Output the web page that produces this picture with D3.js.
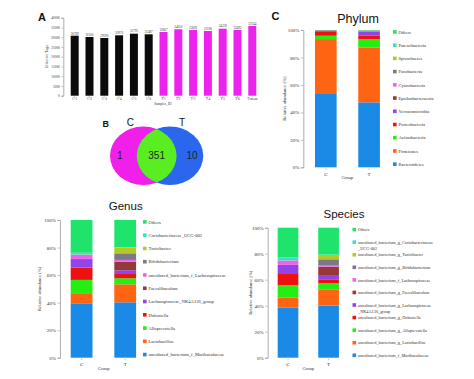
<!DOCTYPE html>
<html><head><meta charset="utf-8">
<script src="https://cdn.jsdelivr.net/npm/d3@7"></script>
<style>body{margin:0;background:#fff}svg{display:block}</style></head>
<body>
<svg id="c" width="474" height="379"></svg>
<script>
// ---------- DATA ----------
const sampleNames = ["C-1","C-2","C-3","C-4","C-5","C-6","T-1","T-2","T-3","T-4","T-5","T-6","T-mean"];
const sampleGroups = ["C","C","C","C","C","C","T","T","T","T","T","T","T"];
const sampleValues = [30769,30100,29590,30970,31795,31487,32667,34050,33692,33180,34359,33692,35744];
const sampleTicks = [0,5000,10000,15000,20000,25000,30000,35000,40000];

const vennSets = ["C","T"];
const vennCounts = [1,351,10]; // C only, shared, T only

const groups = ["C","T"];
const pctTicks = [0,20,40,60,80,100];

const phylumNames = ["Others","Patescibacteria","Spirochaetes","Fusobacteria","Cyanobacteria","Epsilonbacteraeota","Verrucomicrobia","Proteobacteria","Actinobacteria","Firmicutes","Bacteroidetes"];
const phylumC = [0.1,0.1,0.05,0.05,0.05,0.6,0.05,3.2,2.4,40.0,53.4];
const phylumT = [0.2,0.1,0.1,0.5,0.1,0.2,2.7,2.9,6.1,39.8,47.3];

const genusNames = ["Others","Coriobacteriaceae_UCG-002","Turicibacter","Bifidobacterium","uncultured_bacterium_f_Lachnospiraceae","Faecalibaculum","Lachnospiraceae_NK4A136_group","Dubosiella","Alloprevotella","Lactobacillus","uncultured_bacterium_f_Muribaculaceae"];
const genusC = [23.8,1.2,0.1,0.1,3.1,0.1,6.1,9.0,10.2,6.8,39.5];
const genusT = [19.8,0.3,4.1,4.8,1.2,6.3,2.7,3.1,4.4,13.1,40.2];

const speciesNames = ["Others","uncultured_bacterium_g_Coriobacteriaceae\n_UCG-002","uncultured_bacterium_g_Turicibacter","uncultured_bacterium_g_Bifidobacterium","uncultured_bacterium_f_Lachnospiraceae","uncultured_bacterium_g_Faecalibaculum","uncultured_bacterium_g_Lachnospiraceae\n_NK4A136_group","uncultured_bacterium_g_Dubosiella","uncultured_bacterium_g_Alloprevotella","uncultured_bacterium_g_Lactobacillus","uncultured_bacterium_f_Muribaculaceae"];
const speciesC = [22.8,2.3,0.1,0.1,3.3,0.1,6.9,8.5,9.5,7.7,38.7];
const speciesT = [20.7,0.3,3.3,4.4,1.3,6.4,3.3,3.1,4.6,12.6,40.0];

const seriesColors = ["#1fe46c","#34e0d2","#b6c824","#7a7a86","#ef62ef","#953838","#8f45e8","#ee1111","#25ee12","#ff6412","#1a8ae6"];

// ---------- DRAW ----------
const svg = d3.select("#c");
svg.append("rect").attr("width",474).attr("height",379).attr("fill","#fff");
const SERIF = "'Liberation Serif', 'DejaVu Serif', serif";
const SANS = "'Liberation Sans', Arial, sans-serif";

function styleAxis(g, fs){
  g.selectAll("path.domain").attr("stroke","#9a9a9a").attr("stroke-width",0.8);
  g.selectAll(".tick line").attr("stroke","#9a9a9a").attr("stroke-width",0.6);
  g.selectAll(".tick text").attr("font-family",SERIF).attr("font-size",fs).attr("fill","#333");
}

// ----- Panel A -----
(function(){
  const y = d3.scaleLinear().domain([0,40000]).range([95.7,17.7]);
  const x = d3.scaleBand().domain(sampleNames).range([63.9,263.1]).paddingInner(0.46).paddingOuter(0.46);
  const ya = svg.append("g").attr("transform","translate(63.3,0)")
    .call(d3.axisLeft(y).tickValues(sampleTicks).tickSize(2).tickPadding(1.5).tickFormat(d3.format("d")));
  styleAxis(ya, 3.4);
  const xa = svg.append("g").attr("transform","translate(0,95.9)")
    .call(d3.axisBottom(x).tickSize(1.2).tickPadding(0.6));
  styleAxis(xa, 3.3);
  xa.select("path.domain").remove();
  svg.append("g").selectAll("rect").data(sampleValues).join("rect")
    .attr("x",(d,i)=>x(sampleNames[i])).attr("width",x.bandwidth())
    .attr("y",d=>y(d)).attr("height",d=>y(0)-y(d))
    .attr("fill",(d,i)=>sampleGroups[i]==="C"?"#0b0b0b":"#ee22ee");
  svg.append("g").selectAll("text").data(sampleValues).join("text")
    .attr("x",(d,i)=>x(sampleNames[i])+x.bandwidth()/2).attr("y",d=>y(d)-1.2)
    .attr("text-anchor","middle").attr("font-family",SERIF).attr("font-size",3.2).attr("fill","#333")
    .text(d=>d);
  svg.append("text").attr("transform","translate(47.5,56.7) rotate(-90)").attr("text-anchor","middle")
    .attr("font-family",SERIF).attr("font-size",4).attr("fill","#333").text("Effective Tags");
  svg.append("text").attr("x",163).attr("y",104.8).attr("text-anchor","middle")
    .attr("font-family",SERIF).attr("font-size",3.5).attr("fill","#333").text("Samples_ID");
  svg.append("text").attr("x",38).attr("y",20.5).attr("font-family",SANS).attr("font-weight","bold")
    .attr("font-size",11).attr("fill","#111").text("A");
})();

// ----- Panel B (Venn) -----
(function(){
  const cx = d3.scaleOrdinal().domain(vennSets).range([143.3,170]);
  const cy = 155.8, rx = 33.3, ry = 29.2;
  const defs = svg.append("defs");
  defs.append("clipPath").attr("id","clipC").append("ellipse")
    .attr("cx",cx("C")).attr("cy",cy).attr("rx",rx).attr("ry",ry);
  svg.append("ellipse").attr("cx",cx("C")).attr("cy",cy).attr("rx",rx).attr("ry",ry).attr("fill","#f020ea");
  svg.append("ellipse").attr("cx",cx("T")).attr("cy",cy).attr("rx",rx).attr("ry",ry).attr("fill","#2a66ee");
  svg.append("ellipse").attr("clip-path","url(#clipC)").attr("cx",cx("T")).attr("cy",cy).attr("rx",rx).attr("ry",ry).attr("fill","#5aee22");
  const pos = [cx("C")-23.5, (cx("C")+cx("T"))/2, cx("T")+22];
  svg.append("g").selectAll("text").data(vennCounts).join("text")
    .attr("x",(d,i)=>pos[i]).attr("y",cy+3.3).attr("text-anchor","middle")
    .attr("font-family",SANS).attr("font-size",10).attr("fill","#1a2a1a").text(d=>d);
  svg.append("text").attr("x",cx("C")-13).attr("y",126).attr("text-anchor","middle")
    .attr("font-family",SANS).attr("font-size",10).attr("fill","#111").text(vennSets[0]);
  svg.append("text").attr("x",cx("T")+12).attr("y",126).attr("text-anchor","middle")
    .attr("font-family",SANS).attr("font-size",10).attr("fill","#111").text(vennSets[1]);
  svg.append("text").attr("x",102.5).attr("y",126.5).attr("font-family",SANS).attr("font-weight","bold")
    .attr("font-size",9).attr("fill","#111").text("B");
})();

// ----- Stacked panels -----
function stacked(cfg){
  const {names, valsC, valsT, axisX, yTop, yBot, xRange, pi, po, title, titleX, titleY, titleSize,
         legX, legY0, legStep, legFs, yTitleX, groupX} = cfg;
  const keys = names.slice().reverse();
  const rows = [valsC, valsT].map((v,gi)=>{
    const o = {group: groups[gi]};
    names.forEach((n,i)=>o[n]=v[i]);
    return o;
  });
  const color = d3.scaleOrdinal().domain(names).range(seriesColors);
  const y = d3.scaleLinear().domain([0,100]).range([yBot,yTop]);
  const x = d3.scaleBand().domain(groups).range(xRange).paddingInner(pi).paddingOuter(po);
  const series = d3.stack().keys(keys)(rows);
  const g = svg.append("g");
  g.selectAll("g.s").data(series).join("g").attr("class","s").attr("fill",d=>color(d.key))
    .selectAll("rect").data(d=>d).join("rect")
    .attr("x",d=>x(d.data.group)).attr("width",x.bandwidth())
    .attr("y",d=>y(d[1])).attr("height",d=>Math.max(0,y(d[0])-y(d[1])));
  const ya = g.append("g").attr("transform",`translate(${axisX},0)`)
    .call(d3.axisLeft(y).tickValues(pctTicks).tickSize(2.5).tickPadding(1.5).tickFormat(d=>d+"%"));
  styleAxis(ya, 5);
  const xa = g.append("g").attr("transform",`translate(0,${yBot+1})`)
    .call(d3.axisBottom(x).tickSize(1.5).tickPadding(2.5));
  styleAxis(xa, 5);
  xa.select("path.domain").remove();
  g.append("text").attr("transform",`translate(${yTitleX},${(yTop+yBot)/2}) rotate(-90)`).attr("text-anchor","middle")
    .attr("font-family",SERIF).attr("font-size",4.6).attr("fill","#333").text("Relative abundance (%)");
  g.append("text").attr("x",groupX).attr("y",yBot+12).attr("text-anchor","middle")
    .attr("font-family",SERIF).attr("font-size",4.6).attr("fill","#333").text("Group");
  g.append("text").attr("x",titleX).attr("y",titleY).attr("text-anchor","middle")
    .attr("font-family",SANS).attr("font-size",titleSize).attr("fill","#111").text(title);
  const leg = g.append("g").selectAll("g").data(names).join("g")
    .attr("transform",(d,i)=>`translate(${legX},${legY0+i*legStep})`);
  leg.append("rect").attr("x",0).attr("y",-2.2).attr("width",3.6).attr("height",3.6).attr("fill",d=>color(d));
  leg.each(function(d){
    const lines = d.split("\n");
    lines.forEach((ln,k)=>{
      d3.select(this).append("text").attr("x",5.5).attr("y",1.3+k*6)
        .attr("font-family",SERIF).attr("font-size",legFs).attr("fill","#333").text(ln);
    });
  });
}

stacked({names:phylumNames, valsC:phylumC, valsT:phylumT, axisX:303.3, yTop:30, yBot:167.3,
  xRange:[303.3,391.6], pi:0.5, po:0.27, title:"Phylum", titleX:358, titleY:23, titleSize:12.5,
  legX:393, legY0:32.3, legStep:13.23, legFs:4.6, yTitleX:285.5, groupX:347.3});
svg.append("text").attr("x",271.5).attr("y",20).attr("font-family",SANS).attr("font-weight","bold")
  .attr("font-size",11).attr("fill","#111").text("C");

stacked({names:genusNames, valsC:genusC, valsT:genusT, axisX:60, yTop:220, yBot:357.7,
  xRange:[60,146.8], pi:0.5, po:0.245, title:"Genus", titleX:125.7, titleY:210, titleSize:11.5,
  legX:143, legY0:222.3, legStep:13.27, legFs:4.6, yTitleX:40.5, groupX:103.7});

stacked({names:speciesNames, valsC:speciesC, valsT:speciesT, axisX:267.7, yTop:227.7, yBot:357.7,
  xRange:[267.7,348.9], pi:0.49, po:0.246, title:"Species", titleX:344, titleY:217.5, titleSize:11.5,
  legX:352.5, legY0:230, legStep:12.57, legFs:4.3, yTitleX:251.5, groupX:308.3});
</script>
</body></html>
